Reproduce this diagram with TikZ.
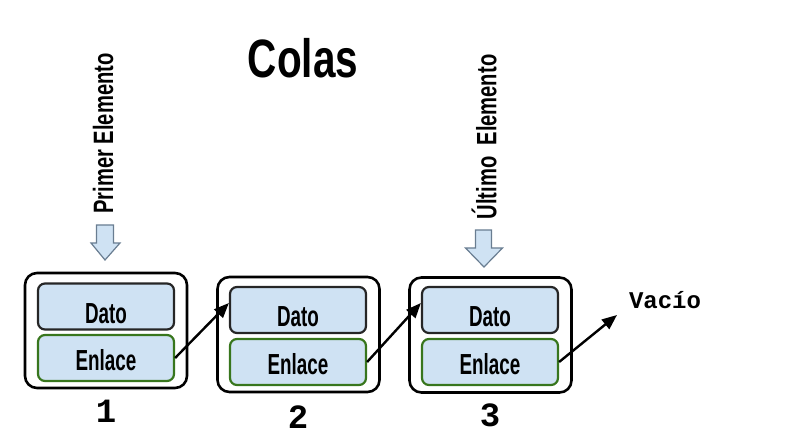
\documentclass[tikz,border=0pt]{standalone}
\usepackage{fontspec}
\setmainfont{Liberation Sans}
\newfontfamily\condfont[FakeStretch=0.65]{Liberation Sans Bold}
\newfontfamily\labfont[FakeStretch=0.72]{Liberation Sans Bold}
\newfontfamily\titlefont[FakeStretch=0.75]{Liberation Sans Bold}
\newfontfamily\monob{Liberation Mono Bold}
\usetikzlibrary{arrows.meta}
\definecolor{boxfill}{HTML}{CFE2F3}
\definecolor{linkgreen}{HTML}{38761D}
\definecolor{arrowedge}{RGB}{105,125,145}
\tikzset{
  outerbox/.style={draw=black, line width=2.6pt, rounded corners=12pt, minimum width=162pt, minimum height=115pt, inner sep=0pt},
  innerbox/.style={fill=boxfill, line width=2.2pt, rounded corners=7pt, minimum width=136pt, minimum height=46pt, inner sep=0pt, font=\condfont\fontsize{29}{32}\selectfont},
  datobox/.style={innerbox, draw=black!85, text height=34pt, text depth=0pt},
  enlacebox/.style={innerbox, draw=linkgreen, text height=25pt, text depth=0pt},
  numlabel/.style={font=\monob\fontsize{34}{38}\selectfont, inner sep=0pt},
  vlabel/.style={rotate=90, font=\labfont\fontsize{28}{30}\selectfont, inner sep=0pt},
  linkarrow/.style={line width=2.4pt, -{Triangle[length=15pt,width=12pt]}},
  blockarrow/.style={draw=arrowedge, fill=boxfill, line width=1.2pt, line join=miter}
}
\begin{document}
\begin{tikzpicture}[x=1pt,y=-1pt]
\useasboundingbox (0,0) rectangle (787,443);
% title
\node[font=\titlefont\fontsize{54}{60}\selectfont, inner sep=0pt] (title) at (303,58) {Colas};
% pointer labels
\node[vlabel] (primer) at (103,133.5) {Primer Elemento};
\node[vlabel] (ultimo) at (484,137) {Último\ \ Elemento};
% block arrows
\draw[blockarrow] (96.5,225) -- (113.5,225) -- (113.5,243) -- (120,243) -- (105,260) -- (91,243) -- (96.5,243) -- cycle;
\draw[blockarrow] (475.5,230) -- (491.5,230) -- (491.5,248) -- (502.5,248) -- (484,267) -- (465.5,248) -- (475.5,248) -- cycle;
% nodes
\node[outerbox] (o1) at (106,330.5) {};
\node[datobox] (d1) at (106,306.5) {Dato};
\node[enlacebox] (e1) at (106,358) {Enlace};
\node[numlabel] (n1) at (106,411) {1};

\node[outerbox] (o2) at (298.5,334.5) {};
\node[datobox] (d2) at (298,310) {Dato};
\node[enlacebox] (e2) at (298,362) {Enlace};
\node[numlabel] (n2) at (298,417) {2};

\node[outerbox] (o3) at (490.5,335) {};
\node[datobox] (d3) at (490,310) {Dato};
\node[enlacebox] (e3) at (490,362) {Enlace};
\node[numlabel] (n3) at (490,415) {3};

\node[font=\monob\fontsize{24}{26}\selectfont, inner sep=0pt] (vacio) at (665,300) {Vacío};
\coordinate (vend) at (617,315);
% connectors
\draw[linkarrow] (e1.east) -- ([yshift=7pt]d2.west);
\draw[linkarrow] (e2.east) -- ([yshift=7pt]d3.west);
\draw[linkarrow] (e3.east) -- (vend);
\end{tikzpicture}
\end{document}
